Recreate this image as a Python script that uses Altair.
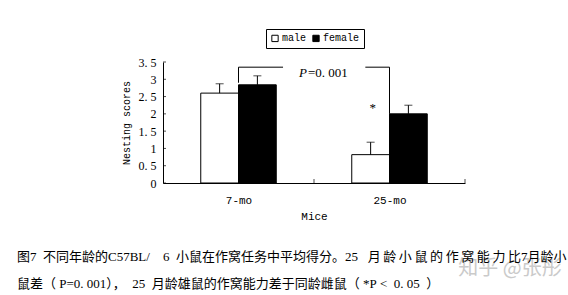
import altair as alt
import pandas as pd

# ---- data ----
ages = ["7-mo", "25-mo"]
sexes = ["male", "female"]
male_means = [2.6, 0.82]
female_means = [2.84, 2.0]
male_errs = [0.27, 0.36]
female_errs = [0.26, 0.25]
y_ticks = [0, 0.5, 1, 1.5, 2, 2.5, 3, 3.5]
x_bounds = [1, 2]

# annotation values (data units)
bracket_top = 3.35
bracket_left_bottom = 2.9
bracket_gap = [0.795, 1.34]
p_text_y = 3.18
p_split_x = 0.96
star_x = 1.389
star_y = 2.16

p_italic = "P"
p_rest = "=0. 001"
star_label = "*"
EN = "\u2002"
NB = "\u00a0"
TH = "\u2009"
caption_lines = [
    "图7" + EN + "不同年龄的C57BL/" + EN + EN + "6" + EN + "小鼠在作窝任务中平均得分。" + "25" + EN + NB
    + TH.join("月龄小鼠的作窝能力比") + "7" + "月龄小",
    "鼠差（" + NB + "P=0. 001）" + "，" + EN + "25" + NB + NB + "月龄雄鼠的作窝能力差于同龄雌鼠（"
    + NB + "*P" + NB + "<" + EN + "0. 05" + EN + "）",
]
watermark = "知乎 @张彤"

BAR_W = 0.25
W, H = 302, 121

rows = []
for i, age in enumerate(ages):
    c = i + 0.5
    for sex, means, errs, off in (("male", male_means, male_errs, -1), ("female", female_means, female_errs, 0)):
        x0 = c + off * BAR_W
        rows.append(dict(age=age, sex=sex, mean=means[i], top=means[i] + errs[i],
                         x0=x0, x1=x0 + BAR_W, xc=x0 + BAR_W / 2))
df = pd.DataFrame(rows)

c_left = 0.5
c_right = 1.5
right_female = female_means[1]
bracket = pd.DataFrame([
    dict(x=c_left, x2=c_left, y=bracket_left_bottom, y2=bracket_top),
    dict(x=c_left, x2=bracket_gap[0], y=bracket_top, y2=bracket_top),
    dict(x=bracket_gap[1], x2=c_right, y=bracket_top, y2=bracket_top),
    dict(x=c_right, x2=c_right, y=bracket_top, y2=right_female),
])

MONO = "Liberation Mono"
SERIF = "Liberation Serif"
CAP_FONT = "Liberation Serif, Noto Sans CJK SC"

xscale = alt.Scale(domain=[0, 2], nice=False, zero=False)
yscale = alt.Scale(domain=[0, 3.5], nice=False)

label_expr = "[" + ",".join("'%s'" % a for a in ages) + "][floor(datum.value)]"
xaxis = alt.Axis(values=[0.5, 1.5], labelExpr=label_expr, ticks=False, grid=False,
                 domainColor="black", labelColor="black", labelFont=MONO, labelFontSize=11,
                 labelPadding=11, title="Mice", titleFont=MONO, titleFontSize=11,
                 titleFontWeight="normal", titleColor="black", titlePadding=5)
yaxis = alt.Axis(values=y_ticks, labelExpr="replace(toString(datum.value), '.', '. ')",
                 ticks=False, grid=False, domainColor="black", labelColor="black",
                 labelFont=SERIF, labelFontSize=12, labelPadding=7, labelOverlap=False,
                 title="Nesting scores", titleFont=MONO, titleFontSize=10,
                 titleFontWeight="normal", titleColor="black", titlePadding=7)


def X(f):
    return alt.X(f, scale=xscale, axis=xaxis)


def Y(f):
    return alt.Y(f, scale=yscale, axis=yaxis)


legend = alt.Legend(orient="none", legendX=103, legendY=-33, direction="horizontal",
                    title=None, strokeColor="black", padding=4, symbolType="square",
                    symbolSize=40, symbolStrokeColor="black", symbolStrokeWidth=1,
                    labelFont=MONO, labelFontSize=10, labelColor="black",
                    labelOffset=2, columnPadding=3, fillColor="white")

bars = alt.Chart(df).mark_bar(stroke="black", strokeWidth=1).encode(
    x=X("x0:Q"), x2="x1:Q", y=Y("mean:Q"), y2=alt.datum(0),
    color=alt.Color("sex:N", scale=alt.Scale(domain=sexes, range=["white", "black"]), legend=legend),
)

err = alt.Chart(df).mark_rule(color="black", strokeWidth=1).encode(
    x=X("xc:Q"), y=Y("mean:Q"), y2="top:Q")
caps = alt.Chart(df).mark_tick(orient="horizontal", size=8, thickness=1, color="black").encode(
    x=X("xc:Q"), y=Y("top:Q"))

br = alt.Chart(bracket).mark_rule(color="black", strokeWidth=1).encode(
    x=X("x:Q"), x2="x2:Q", y=Y("y:Q"), y2="y2:Q")

ptxt = pd.DataFrame([dict(x=p_split_x, y=p_text_y, a=p_italic, b=p_rest)])
p1 = alt.Chart(ptxt).mark_text(align="right", baseline="middle", font=SERIF, fontSize=13,
                               fontStyle="italic", color="black", dx=-1).encode(
    x=X("x:Q"), y=Y("y:Q"), text="a:N")
p2 = alt.Chart(ptxt).mark_text(align="left", baseline="middle", font=SERIF, fontSize=13,
                               color="black").encode(
    x=X("x:Q"), y=Y("y:Q"), text="b:N")

star = alt.Chart(pd.DataFrame([dict(x=star_x, y=star_y, t=star_label)])).mark_text(
    align="center", baseline="middle", font=SERIF, fontSize=13, color="black").encode(
    x=X("x:Q"), y=Y("y:Q"), text="t:N")

yt = alt.Chart(pd.DataFrame({"v": y_ticks})).mark_tick(
    orient="horizontal", size=3, thickness=1, color="black").encode(
    y=Y("v:Q"), x=alt.value(1.5))
xt = alt.Chart(pd.DataFrame({"v": x_bounds})).mark_tick(
    orient="vertical", size=4, thickness=1, color="black").encode(
    x=X("v:Q"), y=alt.value(H - 2))

cap1 = alt.Chart(pd.DataFrame({"t": [caption_lines[0]]})).mark_text(
    align="left", baseline="middle", font=CAP_FONT, fontSize=13, color="black").encode(
    text="t:N", x=alt.value(-146), y=alt.value(194.7))
cap2 = alt.Chart(pd.DataFrame({"t": [caption_lines[1]]})).mark_text(
    align="left", baseline="middle", font=CAP_FONT, fontSize=13, color="black").encode(
    text="t:N", x=alt.value(-146), y=alt.value(222))
wm = alt.Chart(pd.DataFrame({"t": [watermark]})).mark_text(
    align="center", baseline="middle", font="Noto Sans CJK SC", fontSize=20, color="#cacaca").encode(
    text="t:N", x=alt.value(347), y=alt.value(207))

chart = alt.layer(bars, err, caps, br, p1, p2, star, yt, xt, wm, cap1, cap2).properties(
    width=W, height=H,
    autosize=alt.AutoSizeParams(type="none"),
    padding={"left": 163, "top": 62, "right": 103, "bottom": 112},
    background="white",
).configure_view(stroke=None)

chart.save("out.html", embed_options={"renderer": "svg", "actions": False})
